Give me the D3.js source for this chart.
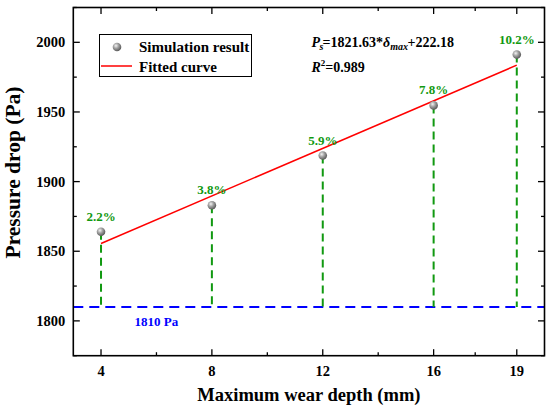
<!DOCTYPE html>
<html>
<head>
<meta charset="utf-8">
<script src="https://cdn.jsdelivr.net/npm/d3@7/dist/d3.min.js"></script>
<style>
html,body{margin:0;padding:0;background:#fff;}
svg{display:block;}
text{font-family:"Liberation Serif","Times New Roman",serif;font-weight:bold;}
</style>
</head>
<body>
<svg id="chart" width="550" height="409"></svg>
<script>
// Data
const depths = [4, 8, 12, 16, 19];
const pressures = [1864, 1883, 1918.7, 1954.7, 1991.2];
const percentLabels = ["2.2%", "3.8%", "5.9%", "7.8%", "10.2%"];
const fitX = [4, 19];
const fitY = [1855.6, 1983.6];
const baseline = 1810;
const xTicks = [4, 8, 12, 16, 19];
const xMinorTicks = [6, 10, 14, 17.5];
const yTicks = [1800, 1850, 1900, 1950, 2000];
const yMinorTicks = [1775, 1825, 1875, 1925, 1975, 2025];

const svg = d3.select("#chart");
const m = {l:73.3, r:544.5, t:7.5, b:355.7};
const x = d3.scaleLinear().domain([3, 20]).range([m.l, m.r]);
const y = d3.scaleLinear().domain([1775, 2025]).range([m.b, m.t]);

const defs = svg.append("defs");
const grad = defs.append("radialGradient").attr("id","ball").attr("cx","38%").attr("cy","35%").attr("r","65%");
grad.append("stop").attr("offset","0%").attr("stop-color","#f4f4f4");
grad.append("stop").attr("offset","45%").attr("stop-color","#a4a4a4");
grad.append("stop").attr("offset","100%").attr("stop-color","#5a5a5a");

// baseline blue dashed
svg.append("line")
  .attr("x1", x(3)).attr("x2", x(20))
  .attr("y1", y(baseline)).attr("y2", y(baseline))
  .attr("stroke","#0000ff").attr("stroke-width",2).attr("stroke-dasharray","10,6");

// green dashed verticals
svg.selectAll(".vline").data(depths).enter().append("line")
  .attr("x1", d=>x(d)).attr("x2", d=>x(d))
  .attr("y1", (d,i)=>y(pressures[i])).attr("y2", y(baseline))
  .attr("stroke","#119911").attr("stroke-width",2).attr("stroke-dasharray","8,5");

// fitted line
svg.append("line")
  .attr("x1", x(fitX[0])).attr("x2", x(fitX[1]))
  .attr("y1", y(fitY[0])).attr("y2", y(fitY[1]))
  .attr("stroke","#ff0000").attr("stroke-width",1.5);

// points
svg.selectAll(".pt").data(depths).enter().append("circle")
  .attr("cx", d=>x(d)).attr("cy",(d,i)=>y(pressures[i])).attr("r",4.3)
  .attr("fill","url(#ball)");

// percent labels
svg.selectAll(".pl").data(depths).enter().append("text")
  .attr("x", d=>x(d)).attr("y",(d,i)=>y(pressures[i]) - 11)
  .attr("text-anchor","middle").attr("font-size",13).attr("fill","#119911")
  .text((d,i)=>percentLabels[i]);

// 1810 Pa label
svg.append("text").attr("x", x(6)).attr("y", y(baseline)+19.5)
  .attr("text-anchor","middle").attr("font-size",13).attr("fill","#0000ff").text(baseline + " Pa");

// axes
const big = 6.5, small = 3.5;
const gx = svg.append("g").attr("stroke","#000").attr("stroke-width",1.3);
function tickLines(vals, len){
  vals.forEach(v=>{
    gx.append("line").attr("x1",x(v)).attr("x2",x(v)).attr("y1",m.b).attr("y2",m.b-len);
    gx.append("line").attr("x1",x(v)).attr("x2",x(v)).attr("y1",m.t).attr("y2",m.t+len);
  });
}
function tickLinesY(vals, len){
  vals.forEach(v=>{
    gx.append("line").attr("y1",y(v)).attr("y2",y(v)).attr("x1",m.l).attr("x2",m.l+len);
    gx.append("line").attr("y1",y(v)).attr("y2",y(v)).attr("x1",m.r).attr("x2",m.r-len);
  });
}
tickLines(xTicks, big); tickLines(xMinorTicks, small);
tickLinesY(yTicks, big); tickLinesY(yMinorTicks, small);

svg.append("rect").attr("x",m.l).attr("y",m.t).attr("width",m.r-m.l).attr("height",m.b-m.t)
  .attr("fill","none").attr("stroke","#000").attr("stroke-width",1.6);

svg.selectAll(".xt").data(xTicks).enter().append("text")
  .attr("x",d=>x(d)).attr("y",m.b+20).attr("text-anchor","middle").attr("font-size",14.5).text(d=>d);
svg.selectAll(".yt").data(yTicks).enter().append("text")
  .attr("x",m.l-8).attr("y",d=>y(d)+5).attr("text-anchor","end").attr("font-size",14.5).text(d=>d);

// axis titles
svg.append("text").attr("x",(m.l+m.r)/2).attr("y",401).attr("text-anchor","middle").attr("font-size",18.5)
  .text("Maximum wear depth (mm)");
svg.append("text").attr("transform",`translate(19.5,172.5) rotate(-90)`).attr("text-anchor","middle").attr("font-size",21.5)
  .text("Pressure drop (Pa)");

// legend
svg.append("rect").attr("x",99.5).attr("y",34.5).attr("width",152).attr("height",42)
  .attr("fill","#fff").attr("stroke","#000").attr("stroke-width",1);
svg.append("circle").attr("cx",117).attr("cy",47).attr("r",4.3).attr("fill","url(#ball)");
svg.append("text").attr("x",139).attr("y",52).attr("font-size",15).text("Simulation result");
svg.append("line").attr("x1",101).attr("x2",132).attr("y1",66).attr("y2",66).attr("stroke","#ff0000").attr("stroke-width",1.5);
svg.append("text").attr("x",139).attr("y",71.5).attr("font-size",15).text("Fitted curve");

// equation
const eq = svg.append("text").attr("x",311.5).attr("y",47).attr("font-size",14);
eq.append("tspan").attr("font-style","italic").text("P");
eq.append("tspan").attr("font-style","italic").attr("font-size",10).attr("dy",3).attr("dx",-0.5).text("s");
eq.append("tspan").attr("dy",-3).attr("dx",-1).text("=1821.63*");
eq.append("tspan").attr("font-style","italic").text("δ");
eq.append("tspan").attr("font-style","italic").attr("font-size",10).attr("dy",3).text("max");
eq.append("tspan").attr("dy",-3).attr("dx",-0.5).text("+222.18");
const r2 = svg.append("text").attr("x",311.5).attr("y",71.5).attr("font-size",14);
r2.append("tspan").attr("font-style","italic").text("R");
r2.append("tspan").attr("font-size",9).attr("dy",-5.5).text("2");
r2.append("tspan").attr("dy",5.5).text("=0.989");
</script>
</body>
</html>
